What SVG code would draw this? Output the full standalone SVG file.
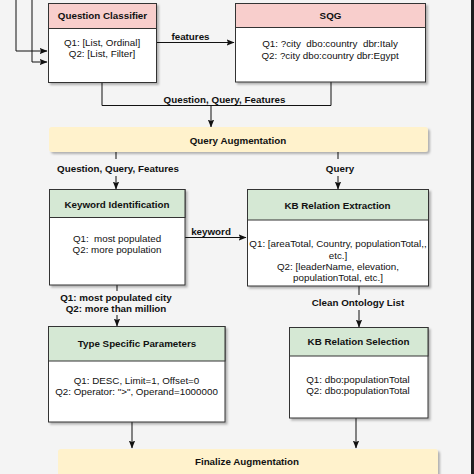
<svg xmlns="http://www.w3.org/2000/svg" width="474" height="474" viewBox="0 0 474 474">
<defs>
<filter id="sh" x="-10%" y="-10%" width="130%" height="130%">
<feDropShadow dx="2" dy="2" stdDeviation="1" flood-color="#000" flood-opacity="0.28"/>
</filter>
<marker id="ar" viewBox="0 0 8 8" refX="7.5" refY="4" markerWidth="8" markerHeight="8" markerUnits="userSpaceOnUse" orient="auto">
<path d="M0,0.8 L8,4 L0,7.2 L1.6,4 Z" fill="#111"/>
</marker>
<style>
.t{font-family:"Liberation Sans",Arial,sans-serif;font-size:9.8px;fill:#111;text-anchor:middle;white-space:pre}
.b{font-weight:bold}
.box{fill:#fff;stroke:#333;stroke-width:1}
.pink{fill:#f8cecc;stroke:#333;stroke-width:1}
.green{fill:#d5e8d4;stroke:#333;stroke-width:1}
.yel{fill:#fff2cc;stroke:none}
.c{fill:none;stroke:#111;stroke-width:1}
</style>
</defs>
<rect x="0" y="0" width="474" height="474" fill="#f4f4f4"/>
<rect x="471" y="0" width="3" height="474" fill="#1e1e1e"/>

<g id="connectors">
<path class="c" d="M16,0 V51 H47" marker-end="url(#ar)"/>
<path class="c" d="M32,0 V62 H47" marker-end="url(#ar)"/>
<path class="c" d="M157,42.5 H234" marker-end="url(#ar)"/>
<path class="c" d="M102,82 V105.5 H331 V82"/>
<path class="c" d="M211,105.5 V127" marker-end="url(#ar)"/>
<path class="c" d="M116,152 V159"/>
<path class="c" d="M116,176 V189" marker-end="url(#ar)"/>
<path class="c" d="M338,152 V159"/>
<path class="c" d="M338,176 V189" marker-end="url(#ar)"/>
<path class="c" d="M185,237.5 H246" marker-end="url(#ar)"/>
<path class="c" d="M117,285 V291"/>
<path class="c" d="M117,315 V326" marker-end="url(#ar)"/>
<path class="c" d="M359,286 V295"/>
<path class="c" d="M359,310 V327" marker-end="url(#ar)"/>
<path class="c" d="M132,422 V448" marker-end="url(#ar)"/>
<path class="c" d="M356,418 V448" marker-end="url(#ar)"/>
<text class="t b" x="190.5" y="39.5">features</text>
<text class="t b" x="224.5" y="103">Question, Query, Features</text>
<text class="t b" x="118" y="172">Question, Query, Features</text>
<text class="t b" x="340" y="172">Query</text>
<text class="t b" x="211" y="234.5">keyword</text>
<text class="t b" x="116" y="301">Q1: most populated city</text>
<text class="t b" x="116" y="312">Q2: more than million</text>
<text class="t b" x="358" y="306">Clean Ontology List</text>
</g>

<g id="question-classifier">
<g filter="url(#sh)">
<rect class="box" x="48.5" y="3.5" width="108" height="79"/>
</g>
<rect class="pink" x="48.5" y="3.5" width="108" height="25"/>
<text class="t b" x="102.5" y="19">Question Classifier</text>
<text class="t" x="102" y="46">Q1: [List, Ordinal]</text>
<text class="t" x="102" y="57">Q2: [List, Filter]</text>
</g>

<g id="sqg">
<g filter="url(#sh)">
<rect class="box" x="235.5" y="3.5" width="190" height="78.5"/>
</g>
<rect class="pink" x="235.5" y="3.5" width="190" height="24"/>
<text class="t b" x="330.5" y="18.5">SQG</text>
<text class="t" x="330" y="47">Q1: ?city  dbo:country  dbr:Italy</text>
<text class="t" x="330" y="58.5">Q2: ?city dbo:country dbr:Egypt</text>
</g>

<g id="query-augmentation">
<rect class="yel" x="49" y="127" width="379" height="25" rx="3" filter="url(#sh)"/>
<text class="t b" x="238" y="143.5">Query Augmentation</text>
</g>

<g id="keyword-identification">
<g filter="url(#sh)">
<rect class="box" x="49.5" y="189.5" width="135.5" height="95.5"/>
</g>
<rect class="green" x="49.5" y="189.5" width="135.5" height="28"/>
<text class="t b" x="117" y="207.5">Keyword Identification</text>
<text class="t" x="117" y="242">Q1:  most populated</text>
<text class="t" x="117" y="253">Q2: more population</text>
</g>

<g id="kb-relation-extraction">
<g filter="url(#sh)">
<rect class="box" x="247.5" y="189.5" width="181" height="96.5"/>
</g>
<rect class="green" x="247.5" y="189.5" width="181" height="30.5"/>
<text class="t b" x="337.5" y="208.5">KB Relation Extraction</text>
<text class="t" x="338" y="247">Q1: [areaTotal, Country, populationTotal,,</text>
<text class="t" x="338" y="259">etc.]</text>
<text class="t" x="338" y="270">Q2: [leaderName, elevation,</text>
<text class="t" x="338" y="280.5">populationTotal, etc.]</text>
</g>

<g id="type-specific-parameters">
<g filter="url(#sh)">
<rect class="box" x="48.5" y="326.5" width="176.5" height="95.5"/>
</g>
<rect class="green" x="48.5" y="326.5" width="176.5" height="34.5"/>
<text class="t b" x="137" y="347">Type Specific Parameters</text>
<text class="t" x="136.5" y="384">Q1: DESC, Limit=1, Offset=0</text>
<text class="t" x="136.5" y="395">Q2: Operator: "&gt;", Operand=1000000</text>
</g>

<g id="kb-relation-selection">
<g filter="url(#sh)">
<rect class="box" x="289.5" y="327.5" width="138.5" height="90.5"/>
</g>
<rect class="green" x="289.5" y="327.5" width="138.5" height="28.5"/>
<text class="t b" x="358.5" y="345">KB Relation Selection</text>
<text class="t" x="358" y="382.5">Q1: dbo:populationTotal</text>
<text class="t" x="358" y="393.5">Q2: dbo:populationTotal</text>
</g>

<g id="finalize-augmentation">
<rect class="yel" x="58" y="449" width="380" height="32" rx="3" filter="url(#sh)"/>
<text class="t b" x="247" y="465">Finalize Augmentation</text>
</g>
</svg>
